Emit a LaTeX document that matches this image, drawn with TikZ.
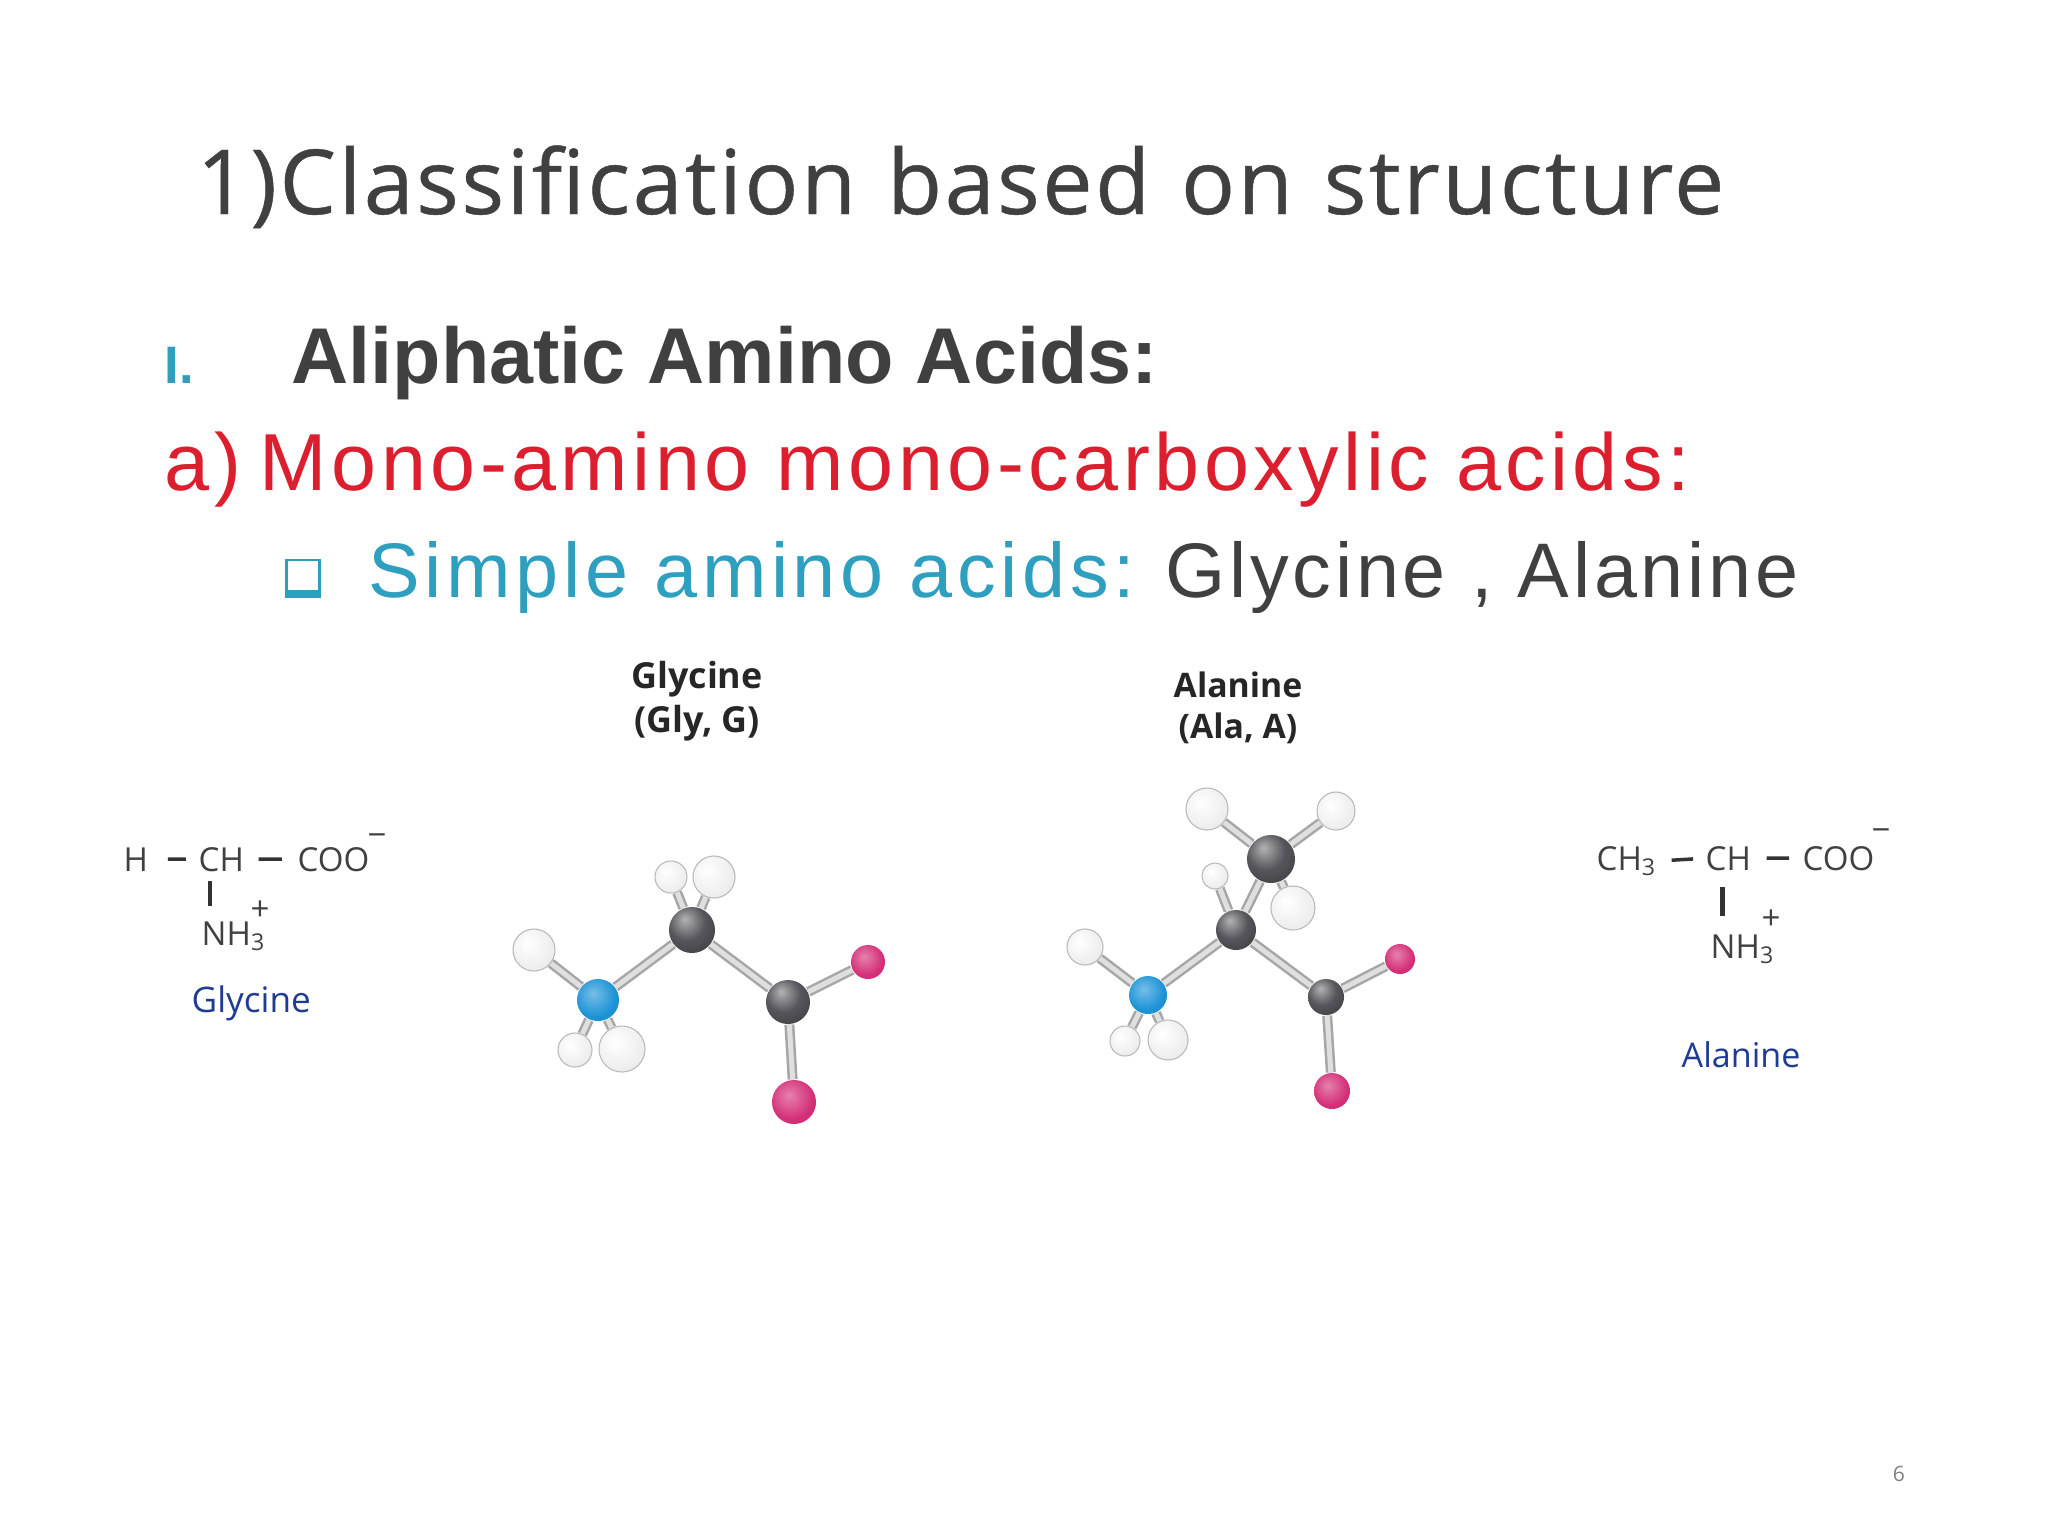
\documentclass[tikz,border=0pt]{standalone}
\usepackage{fontspec}
\setmainfont{Liberation Sans}
\newfontfamily\titlefont[LetterSpace=2.8,WordSpace=1.2,FakeBold=0.5]{Open Sans}
\newfontfamily\monoface[LetterSpace=5.6]{Liberation Sans}
\newfontfamily\simpleface[LetterSpace=6]{Liberation Sans}
\newfontfamily\wideface[LetterSpace=4.8]{Liberation Sans}
\newfontfamily\labelfont{Open Sans}
\usetikzlibrary{backgrounds}
\definecolor{slategray}{HTML}{404040}
\definecolor{headred}{HTML}{DB1F2E}
\definecolor{tealblue}{HTML}{2F9FBF}
\definecolor{navyname}{HTML}{1F3C94}
\definecolor{nitrogen}{HTML}{1C93D6}
\definecolor{oxygen}{HTML}{D42F78}
\definecolor{carbon}{HTML}{55555B}
\pgfdeclareradialshading{hydrogen}{\pgfpoint{-8bp}{8bp}}{color(0bp)=(white); color(32bp)=(white!92!black); color(50bp)=(gray!60); color(75bp)=(gray!75)}
\pgfdeclareradialshading{carbonball}{\pgfpoint{-8bp}{12bp}}{color(0bp)=(gray!60); color(20bp)=(carbon); color(45bp)=(black!78); color(62bp)=(black!88); color(75bp)=(black!88)}
\pgfdeclareradialshading{nitrogenball}{\pgfpoint{-6bp}{8bp}}{color(0bp)=(nitrogen!60!white); color(25bp)=(nitrogen); color(60bp)=(nitrogen!85!black); color(75bp)=(nitrogen!85!black)}
\pgfdeclareradialshading{oxygenball}{\pgfpoint{-6bp}{8bp}}{color(0bp)=(oxygen!60!white); color(25bp)=(oxygen); color(60bp)=(oxygen!85!black); color(75bp)=(oxygen!85!black)}
\tikzset{
	hatom/.style={circle, shade, shading=hydrogen, draw=gray!55, line width=0.3pt, inner sep=0pt, minimum size=#1*0.02cm},
	catom/.style={circle, shade, shading=carbonball, inner sep=0pt, minimum size=#1*0.02cm},
	natom/.style={circle, shade, shading=nitrogenball, inner sep=0pt, minimum size=#1*0.02cm},
	oatom/.style={circle, shade, shading=oxygenball, inner sep=0pt, minimum size=#1*0.02cm},
	stick/.style={draw=gray!70, double=gray!25, double distance=0.05cm, line width=0.025cm},
	chem/.style={inner sep=0pt, text=black!75, font=\labelfont\fontsize{9.4pt}{11pt}\selectfont},
	chembond/.style={black!80, line width=0.035cm},
	molname/.style={align=center, text=black!85, font=\labelfont\bfseries\fontsize{9.6pt}{12.5pt}\selectfont},
	aminoname/.style={inner sep=0pt, text=navyname, font=\labelfont\fontsize{10pt}{11pt}\selectfont},
	bodyline/.style={inner sep=0pt, anchor=base west}
}
\begin{document}
\begin{tikzpicture}[x=0.01cm, y=-0.01cm]
	\useasboundingbox (0,0) rectangle (2048,1536);
	\node[bodyline, text=slategray, font=\titlefont\fontsize{25.5pt}{30pt}\selectfont] (title) at (196,214) {1)Classification based on structure};
	\node[bodyline, text=tealblue, font=\bfseries\fontsize{15pt}{18pt}\selectfont] (romanone) at (164,383) {I.};
	\node[bodyline, text=slategray, font=\bfseries\fontsize{22.5pt}{27pt}\selectfont] (aliphatic) at (291,383) {Aliphatic Amino Acids:};
	\node[bodyline, text=headred, font=\monoface\fontsize{23pt}{27pt}\selectfont] (alpha) at (164,490) {a)};
	\node[bodyline, text=headred, font=\monoface\fontsize{23pt}{27pt}\selectfont] (monoamino) at (259,490) {Mono-amino mono-carboxylic acids:};
	\node[draw=tealblue, line width=0.025cm, inner sep=0pt, minimum width=0.33cm, minimum height=0.36cm] (bullet) at (303,578) {};
	\draw[tealblue, line width=0.08cm] ([yshift=0.03cm]bullet.south west) -- ([yshift=0.03cm]bullet.south east);
	\node[bodyline, text=tealblue, font=\simpleface\fontsize{22pt}{27pt}\selectfont] (simple) at (368,597) {Simple amino acids:};
	\node[bodyline, text=slategray, font=\wideface\fontsize{22pt}{27pt}\selectfont] (examples) at (1165,597) {Glycine , Alanine};

	\node[chem, anchor=base west] (hg) at (123,871) {H};
	\node[chem, anchor=base west] (chg) at (198,871) {CH};
	\node[chem, anchor=base west] (coog) at (297,871) {COO};
	\node[chem] (minusg) at (377,840) {−};
	\node[chem, anchor=base west] (nhg) at (201,945) {NH\textsubscript{3}};
	\node[chem] (plusg) at (260,911) {+};
	\draw[chembond, shorten <=0.19cm, shorten >=0.12cm] (hg.east) -- (chg.west);
	\draw[chembond, shorten <=0.14cm, shorten >=0.15cm] (chg.east) -- (coog.west);
	\draw[chembond] ([xshift=0.12cm,yshift=-0.09cm]chg.south west) -- ([xshift=0.12cm,yshift=-0.34cm]chg.south west);
	\node[aminoname, anchor=base west] (glycinename) at (191,1012) {Glycine};

	\node[molname, font=\labelfont\bfseries\fontsize{10.2pt}{12.5pt}\selectfont] (glyhead) at (697,701) {Glycine\\(Gly, G)};
	\node[hatom=16] (ha) at (671,877) {};
	\node[hatom=21] (hb) at (714,877) {};
	\node[catom=23] (ca) at (692,930) {};
	\node[hatom=21] (hc) at (534,950) {};
	\node[natom=21] (n) at (598,1000) {};
	\node[hatom=17] (hd) at (575,1050) {};
	\node[hatom=23] (he) at (622,1049) {};
	\node[catom=22] (cb) at (788,1002) {};
	\node[oatom=17] (oa) at (868,962) {};
	\node[oatom=22] (ob) at (794,1102) {};
	\begin{scope}[on background layer]
		\foreach \from/\to in {ca/ha, ca/hb, ca/n, ca/cb, n/hc, n/hd, n/he, cb/oa, cb/ob}
			\draw[stick] (\from) -- (\to);
	\end{scope}

	\node[molname, align=center] (alahead) at (1238,708) {Alanine\\[-1pt](Ala, A)};
	\node[hatom=21] (hf) at (1207,809) {};
	\node[hatom=19] (hg2) at (1336,811) {};
	\node[catom=24] (cm) at (1271,859) {};
	\node[hatom=13] (hh) at (1215,876) {};
	\node[hatom=22] (hi) at (1293,908) {};
	\node[catom=20] (cc) at (1236,930) {};
	\node[hatom=18] (hj) at (1085,947) {};
	\node[natom=19] (n2) at (1148,995) {};
	\node[hatom=15] (hk) at (1125,1041) {};
	\node[hatom=20] (hl) at (1168,1040) {};
	\node[catom=18] (cd) at (1326,997) {};
	\node[oatom=15] (oc) at (1400,959) {};
	\node[oatom=18] (od) at (1332,1091) {};
	\begin{scope}[on background layer]
		\foreach \from/\to in {cm/hf, cm/hg2, cm/hi, cm/cc, cc/hh, cc/n2, cc/cd, n2/hj, n2/hk, n2/hl, cd/oc, cd/od}
			\draw[stick] (\from) -- (\to);
	\end{scope}

	\node[chem, anchor=base west] (cha) at (1596,870) {CH\textsubscript{3}};
	\node[chem, anchor=base west] (chb) at (1705,870) {CH};
	\node[chem, anchor=base west] (cooa) at (1802,870) {COO};
	\node[chem] (minusa) at (1881,835) {−};
	\node[chem, anchor=base west] (nha) at (1710,958) {NH\textsubscript{3}};
	\node[chem] (plusa) at (1771,920) {+};
	\draw[chembond, shorten <=0.14cm, shorten >=0.12cm] (cha.east) -- (chb.west);
	\draw[chembond, shorten <=0.15cm, shorten >=0.13cm] (chb.east) -- (cooa.west);
	\draw[chembond, line width=0.05cm] ([xshift=0.17cm,yshift=-0.16cm]chb.south west) -- ([xshift=0.17cm,yshift=-0.45cm]chb.south west);
	\node[aminoname, anchor=base west, font=\labelfont\fontsize{9.7pt}{11pt}\selectfont] (alaninename) at (1681,1067) {Alanine};

	\node[inner sep=0pt, text=gray, font=\labelfont\fontsize{6pt}{7pt}\selectfont] (pagenum) at (1899,1474) {6};
\end{tikzpicture}
\end{document}
